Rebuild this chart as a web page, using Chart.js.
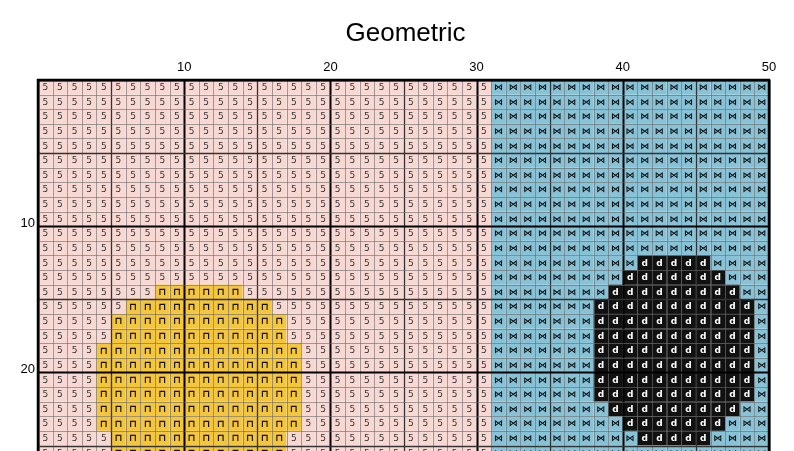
<!DOCTYPE html>
<html><head><meta charset="utf-8">
<script src="https://cdn.jsdelivr.net/npm/chart.js@4/dist/chart.umd.min.js"></script>
<style>html,body{margin:0;padding:0;overflow:hidden;background:#fff}</style>
</head><body>
<canvas id="c" width="794" height="818"></canvas>
<script>
const title = "Geometric";
const nCols = 50, nRows = 50;
const xTicks = [10,20,30,40,50];
const yTicks = [10,20,30,40,50];
const blueStartCol = 32;
// [row, firstCol, lastCol] (1-based)
const yellowRuns = [[15,9,14],[16,7,16],[17,6,17],[18,6,17],[19,5,18],[20,5,18],[21,5,18],[22,5,18],[23,5,18],[24,5,18],[25,6,17],[26,6,17],[27,7,16],[28,9,14]];
const blackRuns = [[13,42,46],[14,41,47],[15,40,48],[16,39,49],[17,39,49],[18,39,49],[19,39,49],[20,39,49],[21,39,49],[22,39,49],[23,40,48],[24,41,47],[25,42,46]];
const palette = {
  pink:{fill:'#f8d8d3',sym:'5',color:'#333',font:'9px DejaVu Sans'},
  blue:{fill:'#87c2d6',sym:'⋈',color:'#111',font:'bold 9px DejaVu Sans'},
  yellow:{fill:'#f4c63d',sym:'⊓',color:'#111',font:'bold 10px DejaVu Sans'},
  black:{fill:'#111111',sym:'d',color:'#fff',font:'bold 9px DejaVu Sans'}
};
const cells = [];
for (let r=1;r<=nRows;r++) for (let c=1;c<=nCols;c++) {
  let k = c>=blueStartCol ? 'blue':'pink';
  for (const [rr,a,b] of yellowRuns) if (rr===r && c>=a && c<=b) k='yellow';
  for (const [rr,a,b] of blackRuns) if (rr===r && c>=a && c<=b) k='black';
  cells.push({x:c-0.5,y:r-0.5,k});
}
const gridPlugin = {
  id:'grid',
  afterDatasetsDraw(chart){
    const ctx=chart.ctx, xs=chart.scales.x, ys=chart.scales.y;
    ctx.save();
    ctx.textAlign='center'; ctx.textBaseline='middle';
    for (const d of chart.data.datasets[0].data){
      const p=palette[d.k];
      const x0=xs.getPixelForValue(d.x-0.5), x1=xs.getPixelForValue(d.x+0.5);
      const y0=ys.getPixelForValue(d.y-0.5), y1=ys.getPixelForValue(d.y+0.5);
      ctx.fillStyle=p.fill; ctx.fillRect(x0,y0,x1-x0,y1-y0);
      ctx.fillStyle=p.color; ctx.font=p.font;
      ctx.fillText(p.sym,(x0+x1)/2,(y0+y1)/2+0.5);
    }
    const L=xs.getPixelForValue(0),R=xs.getPixelForValue(nCols),T=ys.getPixelForValue(0),B=ys.getPixelForValue(nRows);
    for (let i=0;i<=nCols;i++){
      const x=Math.round(xs.getPixelForValue(i))+0.5;
      ctx.strokeStyle = i%10===0?'#000':(i%5===0?'#333':'#666');
      ctx.lineWidth = i%10===0?2:(i%5===0?1.3:0.6);
      ctx.beginPath();ctx.moveTo(x,T);ctx.lineTo(x,B);ctx.stroke();
    }
    for (let i=0;i<=nRows;i++){
      const y=Math.round(ys.getPixelForValue(i))+0.5;
      ctx.strokeStyle = i%10===0?'#000':(i%5===0?'#333':'#666');
      ctx.lineWidth = i%10===0?2:(i%5===0?1.3:0.6);
      ctx.beginPath();ctx.moveTo(L,y);ctx.lineTo(R,y);ctx.stroke();
    }
    ctx.strokeStyle='#000';ctx.lineWidth=2.5;ctx.strokeRect(L,T,R-L,B-T);
    ctx.fillStyle='#000';ctx.font='13px Liberation Sans';
    ctx.textAlign='center';ctx.textBaseline='alphabetic';
    for (const t of xTicks) ctx.fillText(String(t),xs.getPixelForValue(t),T-9);
    ctx.textAlign='right';
    for (const t of yTicks) ctx.fillText(String(t),L-3,ys.getPixelForValue(t)+1);
    ctx.textAlign='center';ctx.font='26px Liberation Sans';
    ctx.fillText(title,(L+R)/2+2,41);
    ctx.restore();
  }
};
new Chart(document.getElementById('c'),{
  type:'scatter',
  data:{datasets:[{data:cells,pointRadius:0}]},
  options:{
    responsive:false,animation:false,
    layout:{padding:{left:38,right:25,top:80,bottom:7}},
    plugins:{legend:{display:false},tooltip:{enabled:false}},
    scales:{
      x:{type:'linear',min:0,max:nCols,display:false},
      y:{type:'linear',min:0,max:nRows,reverse:true,display:false}
    }
  },
  plugins:[gridPlugin]
});
</script>
</body></html>
